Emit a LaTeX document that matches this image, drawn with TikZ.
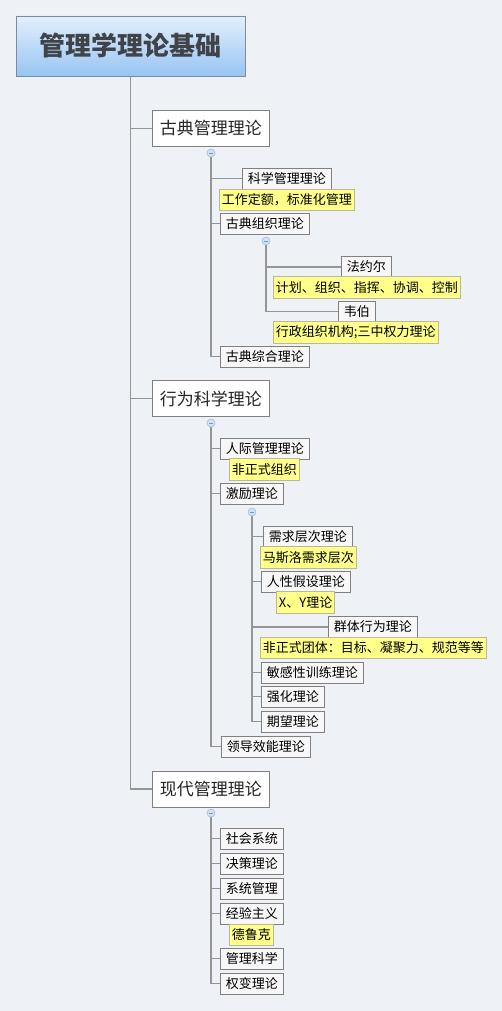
\documentclass[tikz,border=0pt]{standalone}
\usepackage{fontspec}
\setmainfont{Noto Sans CJK SC}
\usetikzlibrary{backgrounds}
\definecolor{bg}{HTML}{EEF1F5}
\definecolor{linegray}{HTML}{959595}
\definecolor{boxbd}{HTML}{808080}
\definecolor{topicfill}{HTML}{F7F7F7}
\definecolor{notefill}{HTML}{FFFF8A}
\definecolor{notebd}{HTML}{B9B99A}
\definecolor{roottop}{HTML}{E3EFFC}
\definecolor{rootbot}{HTML}{97C5F3}
\definecolor{rootbd}{HTML}{7D8C9C}
\definecolor{roottext}{HTML}{404448}
\definecolor{circfill}{HTML}{D3E2F5}
\definecolor{circbd}{HTML}{9DBCE3}
\tikzset{
  rootbox/.style={draw=rootbd, line width=0.9pt, top color=roottop, bottom color=rootbot,
    minimum width=229pt, minimum height=60pt, text=roottext,
    font=\fontsize{26}{26}\selectfont\bfseries},
  mainbox/.style={draw=boxbd, line width=0.9pt, fill=white, anchor=west, inner xsep=7.5pt,
    inner ysep=0pt, minimum height=36pt, text=black!85, font=\fontsize{17}{17}\selectfont},
  topic/.style={draw=boxbd, line width=0.8pt, fill=topicfill, anchor=west, inner xsep=5.5pt,
    inner ysep=0pt, minimum height=21pt, text=black, font=\fontsize{13}{13}\selectfont},
  note/.style={draw=notebd, line width=0.8pt, fill=notefill, anchor=west, inner xsep=2.5pt,
    inner ysep=0pt, minimum height=21.5pt, text=black, font=\fontsize{13}{13}\selectfont},
  link/.style={draw=linegray, line width=1.3pt},
  collapse/.style={circle, draw=circbd, fill=circfill, line width=0.6pt, minimum size=8pt, inner sep=0pt,
    path picture={\draw[circbd!80!black, line width=0.6pt] ([xshift=-2pt]path picture bounding box.center) -- ([xshift=2pt]path picture bounding box.center);}},
}
\begin{document}
\begin{tikzpicture}[x=1pt,y=-1pt]
\useasboundingbox (0,0) rectangle (502,1011);
\begin{scope}[on background layer]
\fill[bg] (0,0) rectangle (502,1011);
\end{scope}

% nodes
\node[rootbox] (root) at (130.5,46) {管理学理论基础};

\node[mainbox] (m1) at (152,128.5) {古典管理理论};
\node[collapse] (c1) at (211,153) {};
\node[topic] (a1) at (242,178.5) {科学管理理论};
\node[note] (a1n) at (219,200) {工作定额，标准化管理};
\node[topic] (a2) at (220,223.5) {古典组织理论};
\node[collapse] (c2) at (266,241) {};
\node[topic] (b1) at (341,267) {法约尔};
\node[note] (b1n) at (273,287.5) {计划、组织、指挥、协调、控制};
\node[topic] (b2) at (338,311.5) {韦伯};
\node[note] (b2n) at (273,332.5) {行政组织机构;三中权力理论};
\node[topic] (a3) at (220,356.5) {古典综合理论};

\node[mainbox] (m2) at (152,398.5) {行为科学理论};
\node[collapse] (c3) at (211,423) {};
\node[topic] (d1) at (220,448.5) {人际管理理论};
\node[note] (d1n) at (229,469.5) {非正式组织};
\node[topic] (d2) at (220,493.5) {激励理论};
\node[collapse] (c4) at (252,512) {};
\node[topic] (e1) at (263,536.5) {需求层次理论};
\node[note] (e1n) at (260,557.5) {马斯洛需求层次};
\node[topic] (e2) at (261,581.5) {人性假设理论};
\node[note] (e2n) at (276,602.5) {X、Y理论};
\node[topic] (e3) at (328,627) {群体行为理论};
\node[note] (e3n) at (260,648) {非正式团体：目标、凝聚力、规范等等};
\node[topic] (e4) at (261,672.5) {敏感性训练理论};
\node[topic] (e5) at (261,696.5) {强化理论};
\node[topic] (e6) at (261,721.5) {期望理论};
\node[topic] (d3) at (221,746.5) {领导效能理论};

\node[mainbox] (m3) at (152,789) {现代管理理论};
\node[collapse] (c5) at (211,813) {};
\node[topic] (f1) at (220,838.5) {社会系统};
\node[topic] (f2) at (220,863.5) {决策理论};
\node[topic] (f3) at (220,888.5) {系统管理};
\node[topic] (f4) at (220,913.5) {经验主义};
\node[note] (f4n) at (229,935) {德鲁克};
\node[topic] (f5) at (220,958.5) {管理科学};
\node[topic] (f6) at (220,983.5) {权变理论};

% connectors
\begin{scope}[on background layer]
\draw[link] (root.south) |- (m3.west);
\draw[link] (root.south |- m1.west) -- (m1.west);
\draw[link] (root.south |- m2.west) -- (m2.west);

\draw[link] (c1.south) |- (a3.west);
\draw[link] (c1 |- a1.west) -- (a1.west);
\draw[link] (c1 |- a2.west) -- (a2.west);
\draw[link] (c2.south) |- (b2.west);
\draw[link] (c2 |- b1.west) -- (b1.west);

\draw[link] (c3.south) |- (d3.west);
\draw[link] (c3 |- d1.west) -- (d1.west);
\draw[link] (c3 |- d2.west) -- (d2.west);
\draw[link] (c4.south) |- (e6.west);
\draw[link] (c4 |- e1.west) -- (e1.west);
\draw[link] (c4 |- e2.west) -- (e2.west);
\draw[link] (c4 |- e3.west) -- (e3.west);
\draw[link] (c4 |- e4.west) -- (e4.west);
\draw[link] (c4 |- e5.west) -- (e5.west);

\draw[link] (c5.south) |- (f6.west);
\draw[link] (c5 |- f1.west) -- (f1.west);
\draw[link] (c5 |- f2.west) -- (f2.west);
\draw[link] (c5 |- f3.west) -- (f3.west);
\draw[link] (c5 |- f4.west) -- (f4.west);
\draw[link] (c5 |- f5.west) -- (f5.west);
\end{scope}
\end{tikzpicture}
\end{document}
